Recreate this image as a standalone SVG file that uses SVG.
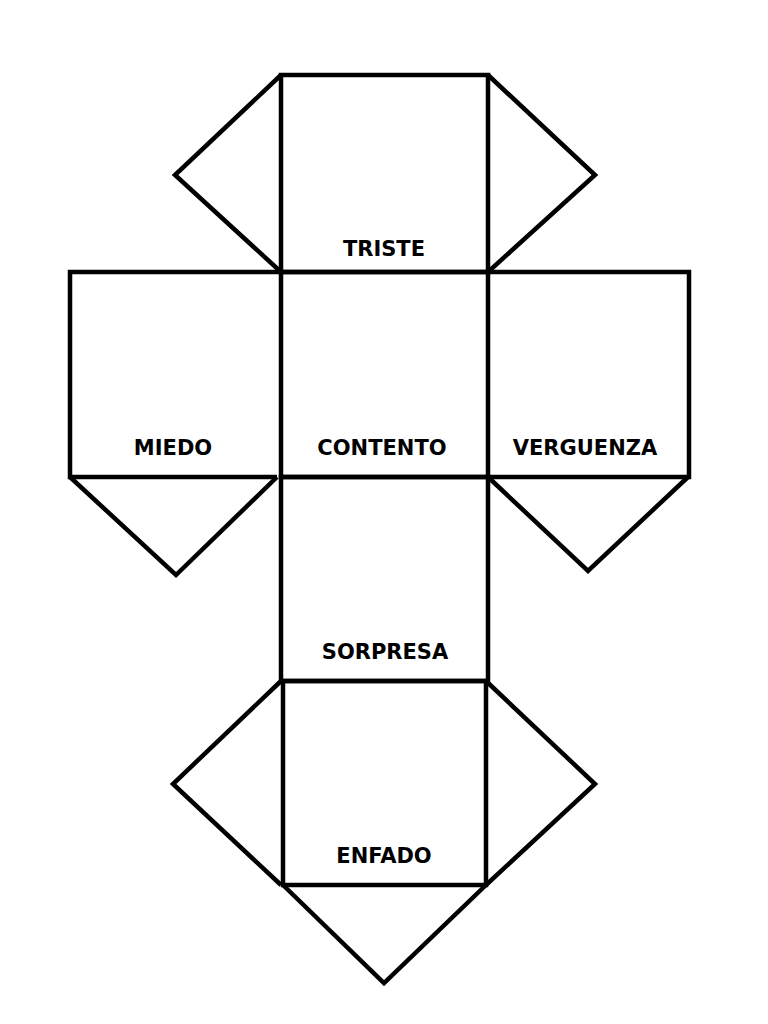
<svg xmlns="http://www.w3.org/2000/svg" width="768" height="1024" viewBox="0 0 768 1024">
<style>
.l{fill:none;stroke:#000;stroke-width:4.5;stroke-linejoin:miter}
.t{font-family:"DejaVu Sans",sans-serif;font-weight:bold;font-size:21px;text-anchor:middle}
</style>
<rect width="768" height="1024" fill="#fff"/>
<g id="triste">
<polyline class="l" points="281,75 175,175 281,272"/>
<polyline class="l" points="488,75 595,175 488,272"/>
<rect class="l" x="281" y="75" width="207" height="197" stroke-width="5.5"/>
<text class="t" x="384" y="256">TRISTE</text>
</g>
<g id="miedo">
<polyline class="l" points="281,272 70,272 70,477 277,477"/>
<polyline class="l" points="70,477 176,575 277,477"/>
<text class="t" x="173" y="455">MIEDO</text>
</g>
<g id="verguenza">
<polyline class="l" points="488,272 689,272 689,477 488,477"/>
<polyline class="l" points="488,477 588,571 688,477"/>
<text class="t" x="585" y="455">VERGUENZA</text>
</g>
<g id="contento">
<rect class="l" x="281" y="272" width="207" height="205" stroke-width="5.5"/>
<text class="t" x="382" y="455">CONTENTO</text>
</g>
<g id="sorpresa">
<rect class="l" x="281" y="477" width="207" height="204" stroke-width="5.5"/>
<text class="t" x="385" y="659">SORPRESA</text>
</g>
<g id="enfado">
<polyline class="l" points="281,681 173,784 281,885"/>
<polyline class="l" points="486,681 595,784 486,885"/>
<polyline class="l" points="283,885 384,983 486,885"/>
<rect class="l" x="283" y="681" width="203" height="204" stroke-width="5.5"/>
<text class="t" x="384" y="863">ENFADO</text>
</g>
</svg>
